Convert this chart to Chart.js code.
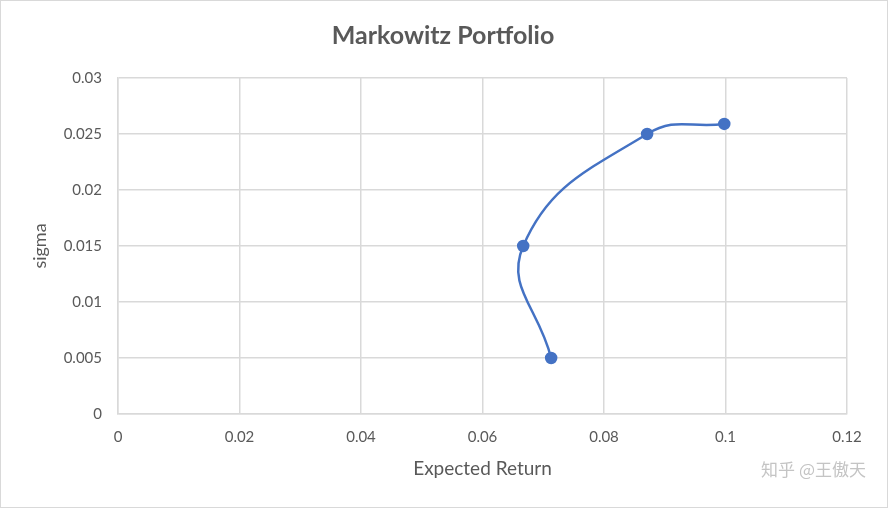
<!DOCTYPE html>
<html>
<head>
<meta charset="utf-8">
<script src="https://cdn.jsdelivr.net/npm/chart.js@4"></script>
<style>
  html, body { margin: 0; padding: 0; background: #fff; }
  #wrap { width: 888px; height: 508px; }
</style>
</head>
<body>
<div id="wrap"><canvas id="myChart" width="888" height="508"></canvas></div>
<script>
// values
const expectedReturn = [0.0713, 0.0667, 0.0871, 0.0998];
const sigma = [0.005, 0.015, 0.025, 0.0259];
const chartTitle = 'Markowitz Portfolio';
const xTitle = 'Expected Return';
const yTitle = 'sigma';
const watermark = '知乎 @王傲天';

const points = expectedReturn.map((x, i) => ({ x: x, y: sigma[i] }));

const grey = '#595959';
const gridColor = '#d9d9d9';

// tick label like excel: 0.03, 0.1, 0
function fmt(v) {
  return String(parseFloat(v.toFixed(4)));
}

// draws background, frame, title and watermark
const decor = {
  id: 'decor',
  beforeDraw(chart) {
    const c = chart.ctx;
    c.save();
    c.fillStyle = '#fff';
    c.fillRect(0, 0, chart.width, chart.height);
    c.strokeStyle = gridColor;
    c.lineWidth = 1;
    c.strokeRect(0.5, 0.5, chart.width - 1, chart.height - 1);
    c.restore();
  },
  afterDraw(chart) {
    const c = chart.ctx;
    c.save();
    c.fillStyle = grey;
    c.font = 'bold 25px Lato, sans-serif';
    c.textAlign = 'center';
    c.textBaseline = 'middle';
    c.fillText(chartTitle, 443, 36);
    c.fillStyle = '#c4c4c4';
    c.font = '17px "Noto Sans CJK SC", sans-serif';
    c.textAlign = 'right';
    c.fillText(watermark, 866, 470);
    c.restore();
  }
};

const ctx = document.getElementById('myChart').getContext('2d');

new Chart(ctx, {
  type: 'scatter',
  data: {
    datasets: [{
      data: points,
      showLine: true,
      borderColor: '#4472C4',
      backgroundColor: '#4472C4',
      borderWidth: 2.5,
      pointRadius: 5,
      pointHoverRadius: 5,
      tension: 0.45
    }]
  },
  options: {
    responsive: false,
    animation: false,
    layout: { padding: { top: 78, right: 41, left: 0, bottom: 0 } },
    scales: {
      x: {
        min: 0, max: 0.12,
        ticks: { stepSize: 0.02, color: grey, padding: 14, font: { family: 'Lato', size: 15 }, callback: fmt },
        grid: { color: gridColor, lineWidth: 1.5, drawTicks: false },
        border: { color: gridColor, width: 1.5 },
        title: { display: true, text: xTitle, color: grey, font: { family: 'Lato', size: 19 }, padding: { top: 0, bottom: 28 } },
        afterFit(scale) { scale.height = 94; }
      },
      y: {
        min: 0, max: 0.03,
        ticks: { stepSize: 0.005, color: grey, padding: 16, font: { family: 'Lato', size: 15 }, callback: fmt },
        grid: { color: gridColor, lineWidth: 1.5, drawTicks: false },
        border: { color: gridColor, width: 1.5 },
        title: { display: true, text: yTitle, color: grey, font: { family: 'Lato', size: 18 }, padding: { top: 29, bottom: 0 } },
        afterFit(scale) { scale.width = 118; }
      }
    },
    plugins: {
      legend: { display: false },
      tooltip: { enabled: false }
    }
  },
  plugins: [decor]
});
</script>
</body>
</html>
